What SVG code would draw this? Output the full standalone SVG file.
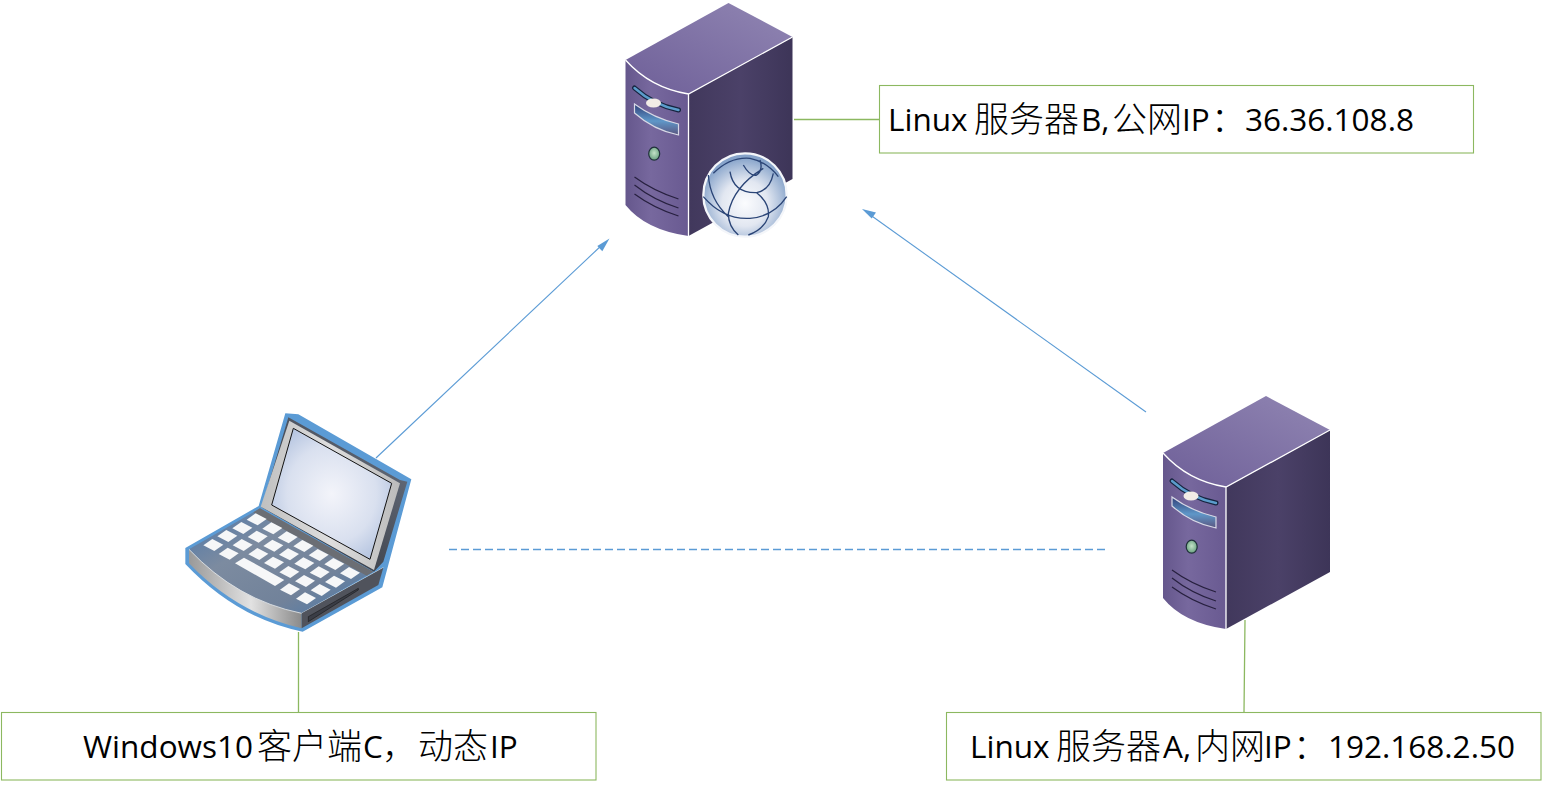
<svg xmlns="http://www.w3.org/2000/svg" xmlns:xlink="http://www.w3.org/1999/xlink" width="1542" height="786" viewBox="0 0 1542 786">
<style>
.box{fill:#fff;stroke:#8cb860;stroke-width:1.1}
.lead{fill:none;stroke:#8cb860;stroke-width:1.3}
.flow{fill:none;stroke:#5b9bd5;stroke-width:1.1}
.label{font-family:"Open Sans","Noto Sans CJK SC",sans-serif;font-size:31.5px;fill:#000}
.cjk{font-family:"Noto Sans CJK SC",sans-serif;font-size:35px;font-weight:300}
.gl{fill:none;stroke:#2a4476;stroke-width:4}
.vent{fill:none;stroke:#27203f;stroke-width:1.2}
.key{fill:#f6f7f8}
</style>
<defs>
<linearGradient id="topG" x1="0" y1="1" x2="1" y2="0"><stop offset="0" stop-color="#6e5f98"/><stop offset="1" stop-color="#9186b3"/></linearGradient>
<linearGradient id="frontG" x1="0" y1="0" x2="1" y2="0"><stop offset="0" stop-color="#65578c"/><stop offset=".4" stop-color="#77689e"/><stop offset="1" stop-color="#695a91"/></linearGradient>
<linearGradient id="sideG" x1="0" y1="0" x2="1" y2="0"><stop offset="0" stop-color="#41385c"/><stop offset=".5" stop-color="#4b4168"/><stop offset="1" stop-color="#3d3558"/></linearGradient>
<linearGradient id="bayG" x1="0" y1="0" x2="0" y2="1"><stop offset="0" stop-color="#2f3f78"/><stop offset=".55" stop-color="#5f97c8"/><stop offset="1" stop-color="#5a5580"/></linearGradient>
<radialGradient id="ledG" cx=".5" cy=".45" r=".6"><stop offset="0" stop-color="#c4e2c8"/><stop offset="1" stop-color="#5f9a78"/></radialGradient>
<radialGradient id="globeG" cx=".5" cy=".6" r=".55"><stop offset="0" stop-color="#fbfcfe"/><stop offset=".5" stop-color="#e2e7f1"/><stop offset="1" stop-color="#86a3ca"/></radialGradient>
<radialGradient id="screenG" cx=".5" cy=".5" r=".62"><stop offset="0" stop-color="#f3f4fa"/><stop offset=".6" stop-color="#d9e0ef"/><stop offset="1" stop-color="#aebfdd"/></radialGradient>
<linearGradient id="bezelG" x1="0" y1="0" x2="1" y2="0"><stop offset="0" stop-color="#c0c0c0"/><stop offset=".5" stop-color="#dedede"/><stop offset="1" stop-color="#bbb"/></linearGradient>
<linearGradient id="deckG" x1="0" y1="0" x2="1" y2="1"><stop offset="0" stop-color="#4a76ab"/><stop offset=".35" stop-color="#7c8ba0"/><stop offset=".7" stop-color="#71829a"/><stop offset="1" stop-color="#4678ad"/></linearGradient>
<linearGradient id="lipG" x1="0" y1="0" x2="1" y2="0"><stop offset="0" stop-color="#999"/><stop offset=".55" stop-color="#e2e2e2"/><stop offset="1" stop-color="#8a8a8a"/></linearGradient>
<linearGradient id="darkG" x1="0" y1="1" x2="1" y2="0"><stop offset="0" stop-color="#26282e"/><stop offset="1" stop-color="#6d7686"/></linearGradient>
<polygon id="key" class="key" points="-30,1 -3,-18 30,-1 3,18"/>
<g id="server">
<path d="M0,0L103,-57L167,-23L63,34Q25,28 0,0Z" fill="url(#topG)"/>
<path d="M0,0Q25,28 63,34V176Q20,170 0,145Z" fill="url(#frontG)"/>
<path d="M63,34L167,-23V119L63,176Z" fill="url(#sideG)"/>
<path d="M0,0Q25,28 63,34L167,-23M63,34V176" fill="none" stroke="#fff" stroke-width="1.3"/>
<path d="M9,28Q28,45 53,50" fill="none" stroke="#16243f" stroke-width="5" stroke-linecap="round"/>
<path d="M9,28Q28,45 53,50" fill="none" stroke="#5b9ccb" stroke-width="2.4" stroke-linecap="round"/>
<path d="M9,44Q28,58 53,64V75Q28,70 9,53Z" fill="url(#bayG)" stroke="#d8d9e6" stroke-width="1.2"/>
<ellipse cx="28" cy="43" rx="7.500" ry="4.500" fill="#f2ece6"/>
<ellipse cx="28.700" cy="93.700" rx="5.500" ry="6.500" fill="url(#ledG)" stroke="#20303a" stroke-width="1.2"/>
<path class="vent" d="M9,117Q28,131 53,139M9,125Q28,140 53,148M9,134Q28,148 53,156"/>
</g>
</defs>

<g id="connectors">
<path class="flow" d="M376,458L603,244"/>
<path fill="#5b9bd5" d="M609.500,238.500L602.300,251.200L597.300,245.900Z"/>
<path class="flow" d="M1146,412L869,214"/>
<path fill="#5b9bd5" d="M862,209L876,212.500L871.700,218.500Z"/>
<path class="flow" d="M449,549.500H1105" stroke-dasharray="8 4" style="stroke-width:1.4"/>
<path class="lead" d="M794,119.500H879M298.500,632V712M1245,620L1244,712"/>
</g>

<g id="server-b">
<use xlink:href="#server" href="#server" x="625.500" y="60"/>
<g id="globe" transform="translate(600 0) scale(.33333)">
<circle cx="435" cy="585" r="125" fill="url(#globeG)" stroke="#f4f6fa" stroke-width="7"/>
<path class="gl" d="M310,590Q370,660 450,655Q520,650 560,590M340,520Q390,470 450,475Q500,485 535,530M390,515Q400,580 470,578Q510,570 520,520M430,495Q450,530 470,525Q490,510 480,480M490,505Q400,560 385,640Q385,680 415,705M470,578Q510,610 505,650Q490,690 445,705M325,525Q330,600 385,650"/>
</g>
</g>
<g id="server-a">
<use xlink:href="#server" href="#server" x="1163" y="453"/>
</g>

<g id="laptop-c" transform="translate(170 400) scale(.33333)">
<path d="M346,40L385,43L724,238L637,562L398,695Q200,655 46,492L46,444L266,318Z" fill="#5b9bd5"/>
<path d="M355,52L690,240L712,245L640,485L612,515L275,322Z" fill="url(#darkG)"/>
<path d="M358,62L690,250L612,510L272,320Z" fill="url(#bezelG)"/>
<path d="M370,85L665,250L600,478L305,315Z" fill="url(#screenG)" stroke="#111" stroke-width="3"/>
<path d="M57,448L270,325L610,515L395,640Q200,600 57,448Z" fill="url(#deckG)"/>
<path d="M270,325L610,515L590,527L250,337Z" fill="#6b6e74"/>
<path d="M57,448Q200,600 395,640V685Q200,640 57,490Z" fill="url(#lipG)"/>
<path d="M57,448Q200,600 395,640L640,503" fill="none" stroke="#e6e6e6" stroke-width="2.500"/>
<path d="M395,640L640,503L625,555L395,685Z" fill="#50535c"/>
<path d="M415,650L565,565V570L415,665Z" fill="#3a3d46" stroke="#111" stroke-width="1.500"/>
<g id="keys">
<use href="#key" x="130" y="435"/><use href="#key" x="176" y="461"/><use href="#key" x="360" y="568"/><use href="#key" x="408" y="595"/>
<use href="#key" x="172" y="408"/><use href="#key" x="218" y="435"/><use href="#key" x="265" y="462"/><use href="#key" x="312" y="488"/><use href="#key" x="358" y="516"/><use href="#key" x="405" y="543"/><use href="#key" x="452" y="570"/>
<use href="#key" x="217" y="384"/><use href="#key" x="263" y="410"/><use href="#key" x="310" y="437"/><use href="#key" x="357" y="463"/><use href="#key" x="403" y="490"/><use href="#key" x="449" y="517"/><use href="#key" x="495" y="545"/>
<use href="#key" x="260" y="358"/><use href="#key" x="307" y="385"/><use href="#key" x="353" y="412"/><use href="#key" x="400" y="438"/><use href="#key" x="446" y="465"/><use href="#key" x="493" y="492"/><use href="#key" x="540" y="519"/>
<polygon class="key" points="195,490 222,473 343,540 315,558"/>
</g>
</g>

<g id="label-b">
<rect class="box" x="879.500" y="85.500" width="594" height="67.500"/>
<text class="label" y="131"><tspan x="888">Linux</tspan> <tspan class="cjk" x="974" y="132">服务器</tspan><tspan x="1081" y="131">B,</tspan><tspan class="cjk" x="1112" y="132">公网</tspan><tspan x="1182" y="131">IP</tspan><tspan class="cjk" x="1211" y="132">：</tspan><tspan x="1245" y="131">36.36.108.8</tspan></text>
</g>
<g id="label-c">
<rect class="box" x="1.500" y="712.500" width="594.500" height="67.500"/>
<text class="label" y="758"><tspan x="83">Windows10</tspan><tspan class="cjk" x="257" y="759">客户端</tspan><tspan x="363" y="758">C</tspan><tspan class="cjk" x="382" y="759">，</tspan><tspan class="cjk" x="418" y="759">动态</tspan><tspan x="490" y="758">IP</tspan></text>
</g>
<g id="label-a">
<rect class="box" x="946.500" y="712.500" width="594.500" height="67.500"/>
<text class="label" y="758"><tspan x="970">Linux</tspan> <tspan class="cjk" x="1056" y="759">服务器</tspan><tspan x="1163" y="758">A,</tspan><tspan class="cjk" x="1195" y="759">内网</tspan><tspan x="1264" y="758">IP</tspan><tspan class="cjk" x="1293" y="759">：</tspan><tspan x="1328" y="758">192.168.2.50</tspan></text>
</g>
</svg>
